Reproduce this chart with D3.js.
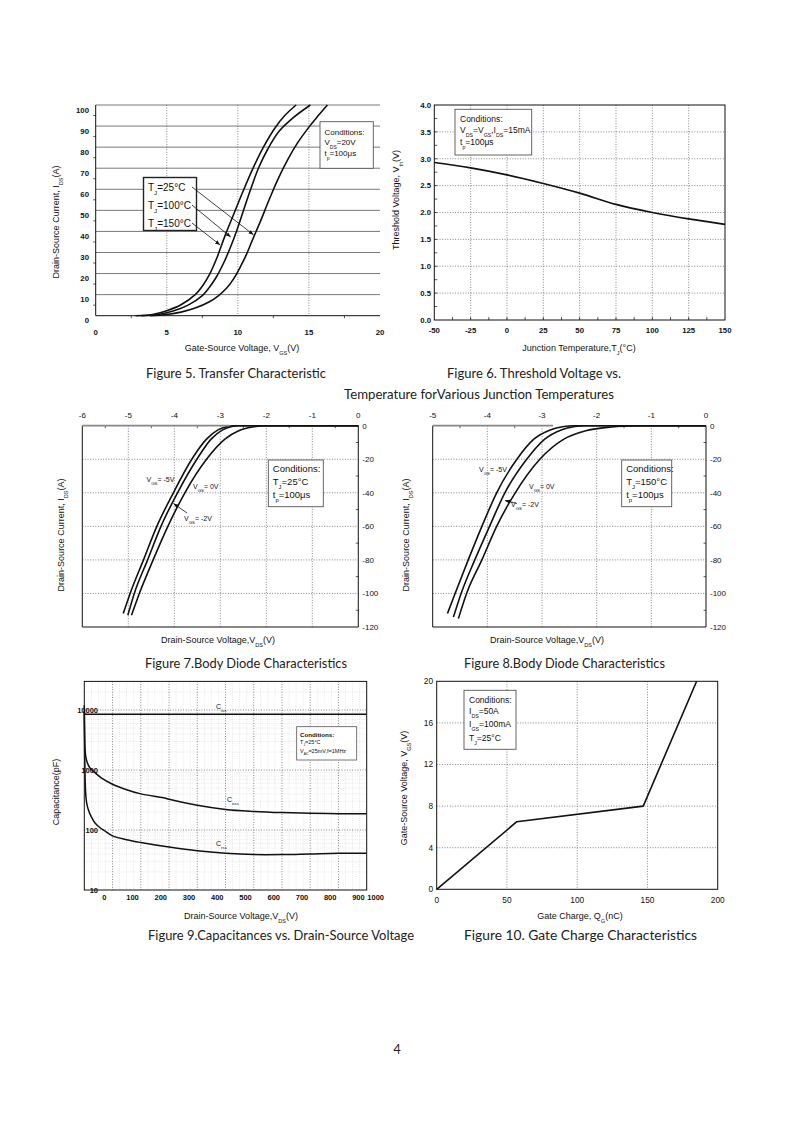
<!DOCTYPE html>
<html><head><meta charset="utf-8">
<script src="https://cdn.jsdelivr.net/npm/d3@7/dist/d3.min.js"></script>
<style>
body{margin:0;background:#fff}
svg{display:block}
text{font-family:"Liberation Sans",Arial,sans-serif;fill:#111}
.cap{font-family:Lato,"Open Sans",sans-serif;fill:#222}
</style>
</head><body>
<script>
// ================= DATA =================
// Figure 5 - Transfer characteristic (Vgs [V], Id [A])
const fig5Vgs_25C  = [3.8,5,6,7,8,8.6,9.2,9.7,10.2,10.6,11.0,11.6,12.2,12.8,13.5,14.2,15.0,15.6,16.3];
const fig5Id_25C   = [0,0.6,1.7,3.6,6.6,9.3,13,17.5,23.5,29,35.5,45,55,64.5,74,82,89.5,94.5,100];
const fig5Vgs_100C = [3.2,4.5,5.5,6.5,7.5,8.0,8.5,9.0,9.45,9.9,10.4,10.9,11.45,12.1,12.9,13.9,15.1];
const fig5Id_100C  = [0,0.7,2.3,5,9.5,13.5,18.5,25,32,40,50,60,70,79,87.5,94,100];
const fig5Vgs_150C = [2.8,4,5,6,7,7.5,8,8.5,9.1,9.7,10.3,11.0,11.8,12.6,13.3,14.1];
const fig5Id_150C  = [0,0.6,2.4,5.2,10,14,19.5,27,38,48,58,69,80,89,95,100];
const fig5XTicks = [0,5,10,15,20];
const fig5YTicks = [0,10,20,30,40,50,60,70,80,90,100];
const fig5Legend = ["T_{J}=25°C","T_{J}=100°C","T_{J}=150°C"];

// Figure 6 - Threshold voltage vs temperature
const fig6Temp = [-50,-25,0,25,50,75,100,125,150];
const fig6Vth  = [2.93,2.83,2.70,2.54,2.36,2.15,2.00,1.88,1.78];
const fig6XTicks = [-50,-25,0,25,50,75,100,125,150];
const fig6YTicks = [0,0.5,1,1.5,2,2.5,3,3.5,4];

// Figure 7 - Body diode, Tj = 25°C (Vds [V], Ids [A])
const fig7Vds_m5 = [-5.11,-4.96,-4.67,-4.38,-4.02,-3.62,-3.3,-3.05,-2.85,-2.7,0];
const fig7Ids_m5 = [-112,-100,-80,-60,-40,-20,-8,-2.5,-0.5,0,0];
const fig7Vds_m2 = [-5.01,-4.87,-4.58,-4.29,-3.93,-3.51,-3.2,-2.95,-2.75,-2.6,0];
const fig7Ids_m2 = [-113,-100,-80,-60,-40,-20,-8,-2.5,-0.5,0,0];
const fig7Vds_0  = [-4.93,-4.76,-4.46,-4.14,-3.77,-3.30,-2.9,-2.6,-2.3,-2.0,0];
const fig7Ids_0  = [-113,-100,-80,-60,-40,-20,-8,-3,-0.8,0,0];
const fig7XTicks = [-6,-5,-4,-3,-2,-1,0];
const fig7YTicks = [0,-20,-40,-60,-80,-100,-120];

// Figure 8 - Body diode, Tj = 150°C
const fig8Vds_m5 = [-4.73,-4.59,-4.35,-4.10,-3.83,-3.46,-3.15,-2.85,-2.6,-2.45,0];
const fig8Ids_m5 = [-112,-100,-80,-60,-40,-20,-8,-2.5,-0.5,0,0];
const fig8Vds_m2 = [-4.62,-4.48,-4.23,-3.96,-3.68,-3.28,-2.95,-2.65,-2.4,-2.2,0];
const fig8Ids_m2 = [-114,-100,-80,-60,-40,-20,-8,-2.5,-0.5,0,0];
const fig8Vds_0  = [-4.53,-4.38,-4.10,-3.83,-3.49,-3.04,-2.6,-2.2,-1.8,-1.4,-1.1,0];
const fig8Ids_0  = [-115,-100,-80,-60,-40,-20,-8,-3,-1,-0.2,0,0];
const fig8XTicks = [-5,-4,-3,-2,-1,0];
const fig8YTicks = [0,-20,-40,-60,-80,-100,-120];

// Figure 9 - Capacitances (Vds [V], C [pF])
const fig9Vds_iss = [0,2,10,50,200,500,1000];
const fig9C_iss   = [9500,8600,8500,8500,8500,8500,8500];
const fig9Vds_oss = [0,1,2.5,5,10,20,38,60,100,150,200,280,300,400,500,600,700,800,900,1000];
const fig9C_oss   = [12000,4500,2300,1700,1350,1080,900,740,580,470,400,345,325,258,220,204,195,190,187,186];
const fig9Vds_rss = [0,2,4.7,8,14,25,38,55,71,100,150,200,300,400,500,600,700,800,900,1000];
const fig9C_rss   = [9000,1200,420,290,220,165,131,110,98,80,69,62,52,45,41,39,39,40,41,41];
const fig9XTicks = [0,100,200,300,400,500,600,700,800,900];
const fig9YTicks = [10,100,1000,10000];

// Figure 10 - Gate charge (Qg [nC], Vgs [V])
const fig10Qg  = [0,57,147,185];
const fig10Vgs = [0,6.5,8.0,20];
const fig10XTicks = [0,50,100,150,200];
const fig10YTicks = [0,4,8,12,16,20];

const captions = [
  {t:"Figure 5. Transfer Characteristic", x:236, y:378, w:180},
  {t:"Figure 6. Threshold Voltage vs.", x:534, y:378, w:174},
  {t:"Temperature forVarious Junction Temperatures", x:479, y:399, w:270},
  {t:"Figure 7.Body Diode Characteristics", x:246, y:668, w:202},
  {t:"Figure 8.Body Diode Characteristics", x:564.5, y:668, w:201},
  {t:"Figure 9.Capacitances vs. Drain-Source Voltage", x:281, y:940, w:266},
  {t:"Figure 10. Gate Charge Characteristics", x:580.5, y:940, w:233}
];

// ================= DRAWING =================
const svg = d3.select("body").append("svg").attr("width",794).attr("height",1123);
svg.append("rect").attr("width",794).attr("height",1123).attr("fill","#fff");
const defs = svg.append("defs");
defs.append("marker").attr("id","arr").attr("viewBox","0 0 10 10").attr("refX",10).attr("refY",5)
  .attr("markerWidth",5).attr("markerHeight",5).attr("markerUnits","userSpaceOnUse").attr("orient","auto")
  .append("path").attr("d","M0,1 L10,5 L0,9 z").attr("fill","#111");

function rich(parent, x, y, str, size, o={}) {
  const t = parent.append("text").attr("x",x).attr("y",y).attr("font-size",size);
  if (o.anchor) t.attr("text-anchor",o.anchor);
  if (o.weight) t.attr("font-weight",o.weight);
  if (o.transform) t.attr("transform",o.transform);
  const re = /_\{([^}]*)\}/g; let last=0, m, shifted=false;
  const sd = size*0.45;
  while ((m = re.exec(str))) {
    if (m.index > last) { const s=t.append("tspan").text(str.slice(last,m.index)); if (shifted) s.attr("dy",-sd); shifted=false; }
    t.append("tspan").text(m[1]).attr("font-size",size*0.62).attr("dy", shifted?0:sd); shifted=true;
    last = re.lastIndex;
  }
  if (last < str.length) { const s=t.append("tspan").text(str.slice(last)); if (shifted) s.attr("dy",-sd); }
  return t;
}
const dotted = s => s.attr("stroke","#555").attr("stroke-width",0.7).attr("stroke-dasharray","1,1.6").attr("fill","none");
function vlines(g, sc, vals, y0, y1){ return g.append("g").selectAll("line").data(vals).join("line")
  .attr("x1",d=>sc(d)).attr("x2",d=>sc(d)).attr("y1",y0).attr("y2",y1); }
function hlines(g, sc, vals, x0, x1){ return g.append("g").selectAll("line").data(vals).join("line")
  .attr("y1",d=>sc(d)).attr("y2",d=>sc(d)).attr("x1",x0).attr("x2",x1); }
function ylabels(g, sc, vals, x, fmt, o={}){ g.append("g").selectAll("text").data(vals).join("text")
  .attr("x",x).attr("y",d=>sc(d)+(o.dy??2.8)).attr("text-anchor",o.anchor||"end")
  .attr("font-size",o.size||7.5).attr("font-weight",o.weight||400).text(fmt); }
function xlabels(g, sc, vals, y, fmt, o={}){ g.append("g").selectAll("text").data(vals).join("text")
  .attr("x",d=>sc(d)+(o.dx||0)).attr("y",y).attr("text-anchor","middle")
  .attr("font-size",o.size||7.5).attr("font-weight",o.weight||400).text(fmt); }
const smooth = d3.curveCatmullRom.alpha(0.5);
function curve(g, xs, ys, sx, sy, c=smooth, w=1.6){
  const pts = xs.map((v,i)=>[v,ys[i]]);
  g.append("path").datum(pts).attr("fill","none").attr("stroke","#111").attr("stroke-width",w)
   .attr("stroke-linejoin","round").attr("d", d3.line().x(d=>sx(d[0])).y(d=>sy(d[1])).curve(c));
}
function box(g, x0,y0,x1,y1, stroke="#555", sw=0.9){
  g.append("rect").attr("x",x0).attr("y",y0).attr("width",x1-x0).attr("height",y1-y0)
   .attr("fill","#fff").attr("stroke",stroke).attr("stroke-width",sw);
}
function ticks(g, sc, vals, axis, pos, len){
  const sel = g.append("g").selectAll("line").data(vals).join("line").attr("stroke","#111").attr("stroke-width",0.7);
  if (axis==="x") sel.attr("x1",d=>sc(d)).attr("x2",d=>sc(d)).attr("y1",pos).attr("y2",pos+len);
  else sel.attr("y1",d=>sc(d)).attr("y2",d=>sc(d)).attr("x1",pos).attr("x2",pos+len);
}
const fmt1 = d3.format(".1f");

// ---------- Figure 5 ----------
(function(){
  const g = svg.append("g");
  const x = d3.scaleLinear().domain([0,20]).range([95.7,380]);
  const y = d3.scaleLinear().domain([0,100]).range([315.7,105]);
  hlines(g, y, fig5YTicks.slice(1), x(0), x(20)).attr("stroke","#6a6a6a").attr("stroke-width",0.9);
  dotted(vlines(g, x, [5,10,15], y(100), y(0)));
  g.append("line").attr("x1",x(0)).attr("x2",x(0)).attr("y1",y(100)).attr("y2",y(0)).attr("stroke","#111").attr("stroke-width",1);
  g.append("line").attr("x1",x(0)).attr("x2",x(20)).attr("y1",y(0)).attr("y2",y(0)).attr("stroke","#111").attr("stroke-width",1);
  ticks(g, y, d3.range(5,100,10), "y", x(0), -2.5);
  ticks(g, x, [2.5,7.5,12.5,17.5], "x", y(0), 2.5);
  ylabels(g, y, fig5YTicks, 89, d=>d, {weight:700, dy:7.5, size:7.8});
  xlabels(g, x, fig5XTicks, 335, d=>d, {weight:700, size:7.8});
  curve(g, fig5Vgs_25C, fig5Id_25C, x, y);
  curve(g, fig5Vgs_100C, fig5Id_100C, x, y);
  curve(g, fig5Vgs_150C, fig5Id_150C, x, y);
  g.append("rect").attr("x",143.5).attr("y",177.5).attr("width",53).attr("height",53).attr("fill","#fff").attr("stroke","#222").attr("stroke-width",1.4);
  fig5Legend.forEach((s,i)=> rich(g, 148, 190.5+i*18, s, 10));
  const tips = [[x(11.1),y(38.4)],[x(9.5),y(37.3)],[x(8.75),y(33.6)]];
  tips.forEach((t,i)=> g.append("line").attr("x1",192).attr("y1",187+i*18).attr("x2",t[0]).attr("y2",t[1])
     .attr("stroke","#111").attr("stroke-width",0.8).attr("marker-end","url(#arr)"));
  box(g, 320,121.7,373.3,168.3);
  rich(g, 324.5, 134.5, "Conditions:", 8);
  rich(g, 324.5, 145, "V_{DS}=20V", 8);
  rich(g, 324.5, 156, "t_{p}=100μs", 8);
  rich(g, 0, 0, "Drain-Source Current, I_{DS}(A)", 9, {anchor:"middle", transform:"translate(59,222) rotate(-90)"});
  rich(g, 242, 351, "Gate-Source Voltage, V_{GS}(V)", 9, {anchor:"middle"});
})();

// ---------- Figure 6 ----------
(function(){
  const g = svg.append("g");
  const x = d3.scaleLinear().domain([-50,150]).range([434.3,725]);
  const y = d3.scaleLinear().domain([0,4]).range([320,105]);
  dotted(vlines(g, x, fig6XTicks.slice(1,-1), y(4), y(0)));
  dotted(hlines(g, y, fig6YTicks.slice(1,-1), x(-50), x(150)));
  ticks(g, y, d3.range(0.25,4,0.25), "y", x(-50), 3);
  ticks(g, x, d3.range(-37.5,150,12.5), "x", y(0), -3);
  g.append("rect").attr("x",x(-50)).attr("y",y(4)).attr("width",x(150)-x(-50)).attr("height",y(0)-y(4)).attr("fill","none").attr("stroke","#111").attr("stroke-width",1);
  ylabels(g, y, fig6YTicks, 431, fmt1, {weight:700, size:7.8});
  xlabels(g, x, fig6XTicks, 333, d=>d, {weight:700, size:7.8});
  curve(g, fig6Temp, fig6Vth, x, y, smooth, 1.7);
  box(g, 455,109.3,531.7,155);
  rich(g, 460, 121.5, "Conditions:", 8.5);
  rich(g, 460, 133, "V_{DS}=V_{GS},I_{DS}=15mA", 8.5);
  rich(g, 460, 145, "t_{p}=100μs", 8.5);
  rich(g, 0, 0, "Threshold Voltage, V_{th}(V)", 9, {anchor:"middle", transform:"translate(399,200) rotate(-90)"});
  rich(g, 579, 351, "Junction Temperature,T_{J}(°C)", 9, {anchor:"middle"});
})();

// ---------- Figures 7 & 8 ----------
function bodyDiode(xr, xdom, xt, yt, series, cond, lab, titles){
  const g = svg.append("g");
  const x = d3.scaleLinear().domain(xdom).range(xr);
  const y = d3.scaleLinear().domain([-120,0]).range([627,425.7]);
  dotted(vlines(g, x, xt.slice(1,-1), y(0), y(-120)));
  dotted(hlines(g, y, yt.slice(1,-1), xr[0], xr[1]));
  ticks(g, x, d3.range(xdom[0]+0.5,0,1), "x", y(0), 2.5);
  ticks(g, y, d3.range(-110,0,20), "y", xr[1], -2.5);
  g.append("path").attr("fill","none").attr("d",`M${xr[0]},${y(0)} V${y(-120)} H${xr[1]} V${y(0)}`).attr("stroke","#111").attr("stroke-width",1);
  series.forEach(s=>curve(g, s[0], s[1], x, y, d3.curveMonotoneX, 1.6));
  g.append("line").attr("x1",xr[0]).attr("x2",x(-2.8)).attr("y1",y(0)).attr("y2",y(0)).attr("stroke","#888").attr("stroke-width",1.8);
  xlabels(g, x, xt, 418, d=>d, {size:8});
  ylabels(g, y, yt, xr[1]+4, d=>d, {size:8, anchor:"start"});
  box(g, cond.x0, 460, cond.x0+cond.w, 506.7);
  rich(g, cond.x0+4.5, 471.5, "Conditions:", 9.5);
  rich(g, cond.x0+4.5, 484.5, cond.t, 9.5);
  rich(g, cond.x0+4.5, 498, "t_{p}=100μs", 9.5);
  rich(g, lab[0][0], lab[0][1], "V_{GS}= -5V", 7);
  rich(g, lab[1][0], lab[1][1], "V_{GS}= 0V", 7);
  rich(g, lab[2][0], lab[2][1], "V_{GS}= -2V", 7);
  g.append("line").attr("x1",lab[3][0]).attr("y1",lab[3][1]).attr("x2",lab[3][2]).attr("y2",lab[3][3])
    .attr("stroke","#111").attr("stroke-width",0.8).attr("marker-end","url(#arr)");
  rich(g, 0, 0, "Drain-Source Current, I_{DS}(A)", 9, {anchor:"middle", transform:`translate(${titles[0]},535) rotate(-90)`});
  rich(g, titles[1], 642.5, "Drain-Source Voltage,V_{DS}(V)", 9, {anchor:"middle"});
}
bodyDiode([82.3,358.3], [-6,0], fig7XTicks, fig7YTicks,
  [[fig7Vds_m5,fig7Ids_m5],[fig7Vds_m2,fig7Ids_m2],[fig7Vds_0,fig7Ids_0]],
  {x0:268.3, w:55, t:"T_{J}=25°C"},
  [[146.5,482],[193,489],[184,521],[187,513,173.5,503.5]], [64,218]);
bodyDiode([432.7,706], [-5,0], fig8XTicks, fig8YTicks,
  [[fig8Vds_m5,fig8Ids_m5],[fig8Vds_m2,fig8Ids_m2],[fig8Vds_0,fig8Ids_0]],
  {x0:621.7, w:50, t:"T_{J}=150°C"},
  [[479,472],[529,489],[511,507],[517,503.5,505,500.5]], [409,547]);

// ---------- Figure 9 ----------
(function(){
  const g = svg.append("g");
  const x = d3.scaleLinear().domain([0,1000]).range([84.3,366.7]);
  const y = d3.scaleLog().domain([10,30000]).range([890,681.4]);
  const minorY = [];
  [10,100,1000,10000].forEach(b=>{ for(let k=2;k<=9;k++){ if(b*k<30000) minorY.push(b*k);} });
  hlines(g, y, minorY, x(0), x(1000)).attr("stroke","#cfcfcf").attr("stroke-width",0.5).attr("stroke-dasharray","1,1.2");
  vlines(g, x, d3.range(25,1000,25).filter(v=>v%100), y(30000), y(10)).attr("stroke","#cfcfcf").attr("stroke-width",0.5).attr("stroke-dasharray","1,1.2");
  dotted(vlines(g, x, fig9XTicks.slice(1), y(30000), y(10)));
  dotted(hlines(g, y, [100,1000,10000], x(0), x(1000)));
  g.append("rect").attr("x",x(0)).attr("y",y(30000)).attr("width",x(1000)-x(0)).attr("height",y(10)-y(30000)).attr("fill","none").attr("stroke","#111").attr("stroke-width",1);
  curve(g, fig9Vds_iss, fig9C_iss, x, y, d3.curveMonotoneX, 1.5);
  curve(g, fig9Vds_oss, fig9C_oss, x, y, smooth, 1.5);
  curve(g, fig9Vds_rss, fig9C_rss, x, y, smooth, 1.5);
  ylabels(g, y, fig9YTicks, 98, d=>d, {weight:700, size:7.5, dy:3});
  xlabels(g, x, fig9XTicks, 900, d=>d, {weight:700, dx:20});
  xlabels(g, x, [1000], 900, d=>d, {weight:700, dx:9});
  rich(g, 216, 709, "C_{iss}", 7);
  rich(g, 227, 802, "C_{oss}", 7);
  rich(g, 216, 845.5, "C_{rss}", 7);
  box(g, 296.7,726.7,356.7,760, "#555", 0.8);
  rich(g, 300, 736.5, "Conditions:", 6.2, {weight:700});
  rich(g, 300, 743.5, "T_{J}=25°C", 5.5);
  rich(g, 300, 752.5, "V_{AC}=25mV,f=1MHz", 5.5);
  rich(g, 0, 0, "Capacitance(pF)", 9, {anchor:"middle", transform:"translate(59,792) rotate(-90)"});
  rich(g, 241, 919, "Drain-Source Voltage,V_{DS}(V)", 9, {anchor:"middle"});
})();

// ---------- Figure 10 ----------
(function(){
  const g = svg.append("g");
  const x = d3.scaleLinear().domain([0,200]).range([436.7,717.7]);
  const y = d3.scaleLinear().domain([0,20]).range([889.3,681.3]);
  dotted(vlines(g, x, fig10XTicks.slice(1,-1), y(20), y(0)));
  dotted(hlines(g, y, fig10YTicks.slice(1,-1), x(0), x(200)));
  g.append("rect").attr("x",x(0)).attr("y",y(20)).attr("width",x(200)-x(0)).attr("height",y(0)-y(20)).attr("fill","none").attr("stroke","#111").attr("stroke-width",1);
  curve(g, fig10Qg, fig10Vgs, x, y, d3.curveLinear, 1.6);
  ylabels(g, y, fig10YTicks, 433, d=>d, {size:8.3});
  xlabels(g, x, fig10XTicks, 903, d=>d, {size:8.3});
  box(g, 464,690.3,516,749.3);
  rich(g, 469, 703, "Conditions:", 8.5);
  rich(g, 469, 714, "I_{DS}=50A", 8.5);
  rich(g, 469, 727, "I_{GS}=100mA", 8.5);
  rich(g, 469, 741, "T_{J}=25°C", 8.5);
  rich(g, 0, 0, "Gate-Source Voltage, V_{GS}(V)", 9, {anchor:"middle", transform:"translate(407,788) rotate(-90)"});
  rich(g, 580, 919, "Gate Charge, Q_{G}(nC)", 9, {anchor:"middle"});
})();

// ---------- Captions ----------
const capG = svg.append("g");
captions.forEach(c=>{
  capG.append("text").attr("class","cap").attr("x",c.x).attr("y",c.y).attr("text-anchor","middle")
    .attr("font-size",12.5).attr("textLength",c.w).attr("lengthAdjust","spacingAndGlyphs").text(c.t);
});
capG.append("text").attr("class","cap").attr("x",397).attr("y",1054).attr("text-anchor","middle").attr("font-size",12.5).text("4");
</script>
</body></html>
